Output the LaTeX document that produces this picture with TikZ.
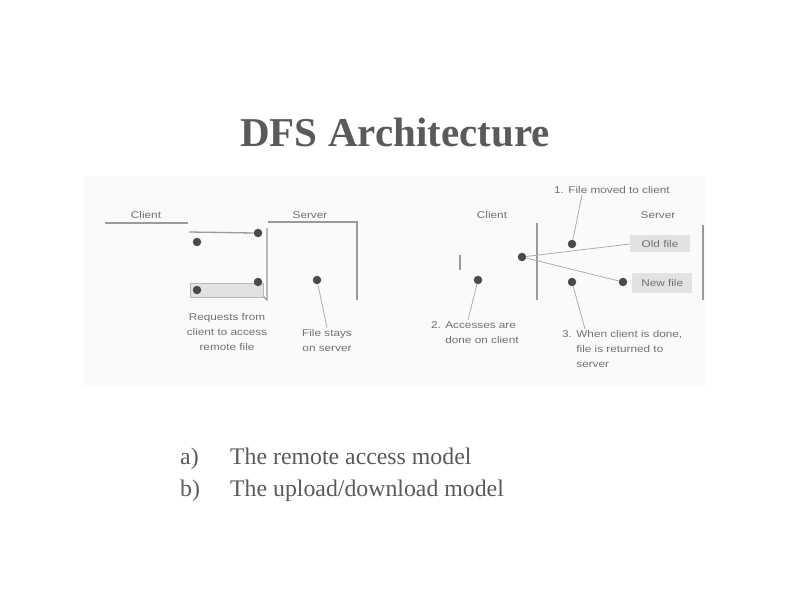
\documentclass[tikz,border=0pt]{standalone}
\usepackage{fontspec}
\setmainfont{Liberation Serif}
\newfontfamily\labelfont[FakeStretch=1.2]{Liberation Sans}
\definecolor{ink}{HTML}{4A4A4A}
\definecolor{titlec}{HTML}{5A5A5A}
\definecolor{txt}{HTML}{707070}
\definecolor{linec}{HTML}{9A9A9A}
\definecolor{panel}{HTML}{FAFAFA}
\definecolor{band}{HTML}{E2E2E2}
\begin{document}
\begin{tikzpicture}[x=1pt,y=-1pt,
  dot/.style={circle,fill=ink,inner sep=0pt,minimum size=8.5pt},
  lbl/.style={font=\labelfont\fontsize{9.8}{15}\selectfont, text=txt, align=center, inner sep=1pt},
  ln/.style={draw=linec, line width=1.3pt},
  thinln/.style={draw=linec!80, line width=0.8pt},
  captxt/.style={anchor=base west, font=\fontsize{23.8}{26}\selectfont, text=titlec, inner sep=0pt}]
\useasboundingbox (0,0) rectangle (792,612);
\fill[white] (0,0) rectangle (792,612);
\fill[panel] (84,176) rectangle (706,386);

% title
\node[anchor=base, font=\fontsize{41}{46}\selectfont\bfseries, text=titlec, inner sep=0pt] (title) at (395,147) {DFS Architecture};

% ---------- (a) remote access model ----------
\node[lbl] (clientA) at (146,215) {Client};
\node[lbl] (serverA) at (310,215) {Server};
\coordinate (clA1) at (105,223);
\coordinate (clA2) at (188,223);
\draw[ln] (clA1) -- (clA2);
\coordinate (svA1) at (268,222);
\coordinate (svA2) at (357,222);
\coordinate (svA3) at (357,300);
\draw[ln] (svA1) -- (svA2) -- (svA3);
\coordinate (svL1) at (267,228);
\coordinate (svL2) at (267,300);
\coordinate (svL3) at (261,294);
\draw[ln] (svL1) -- (svL2) -- (svL3);

\node[draw=linec!70, fill=band, line width=0.6pt, minimum width=73pt, minimum height=14pt, inner sep=0pt] (bandA) at (227,290) {};
\coordinate (topL) at (189,232);
\node[dot] (ca1) at (197,242) {};
\node[dot] (ca2) at (197,290) {};
\node[dot] (sa1) at (258,233) {};
\node[dot] (sa2) at (258,282) {};
\node[dot] (fa) at (317,280) {};
\draw[ln] (topL) -- (sa1.west);

\node[lbl] (reqA) at (227,332) {Requests from\\client to access\\remote file};
\node[lbl] (stayA) at (327,340) {File stays\\on server};
\draw[thinln] (fa) -- (stayA.north);

% ---------- (b) upload/download model ----------
\node[lbl] (clientB) at (492,215) {Client};
\node[lbl] (serverB) at (658,215) {Server};
\node[lbl, anchor=west] (mvB) at (553,190) {1. File moved to client};

\coordinate (barT) at (537,223);
\coordinate (barB) at (537,300);
\draw[draw=linec, line width=2.5pt] (barT) -- (barB);
\coordinate (tickT) at (460,255);
\coordinate (tickB) at (460,270);
\draw[ln] (tickT) -- (tickB);
\coordinate (brT) at (703,225);
\coordinate (brB) at (703,300);
\draw[ln] (brT) -- (brB);

\node[dot] (cb) at (478,280) {};
\node[dot] (sm) at (522,257) {};
\node[dot] (sb1) at (572,244) {};
\node[dot] (sb2) at (572,282) {};
\node[dot] (nf) at (623,282) {};

\node[lbl, fill=band, minimum width=60pt, minimum height=17pt] (old) at (660,244) {Old file};
\node[lbl, fill=band, minimum width=60pt, minimum height=19pt, anchor=west] (new) at (632,283) {New file};

\draw[thinln] (sm) -- (old.west);
\draw[thinln] (sm) -- (nf);

\node[lbl, align=left, anchor=north west] (accB) at (430,320) {2. Accesses are\\\phantom{2. }done on client};
\node[lbl, align=left, anchor=north west] (retB) at (561,329) {3. When client is done,\\\phantom{3. }file is returned to\\\phantom{3. }server};
\draw[thinln] ([xshift=29pt]mvB.south west) -- (sb1);
\draw[thinln] (cb) -- ([xshift=38pt]accB.north west);
\draw[thinln] (sb2) -- ([xshift=24pt]retB.north west);

% captions
\node[captxt] (ka) at (180,464) {a)};
\node[captxt] (ta) at (230,464) {The remote access model};
\node[captxt] (kb) at (180,496) {b)};
\node[captxt] (tb) at (230,496) {The upload/download model};
\end{tikzpicture}
\end{document}
